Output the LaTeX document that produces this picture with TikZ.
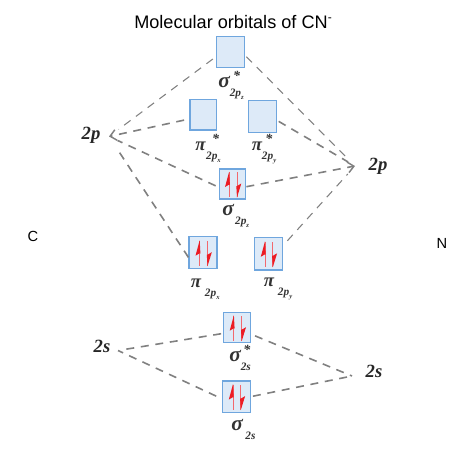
\documentclass[tikz,border=0pt]{standalone}
\usepackage{fontspec}
\setmainfont{Liberation Sans}
\newfontfamily\orbfont{Liberation Serif}
\usetikzlibrary{arrows.meta}
\definecolor{boxfill}{HTML}{DDEAF8}
\definecolor{boxline}{HTML}{6FA6DE}
\definecolor{spinred}{HTML}{EC1C24}
\definecolor{shaftred}{HTML}{F2686E}
\definecolor{linkgrey}{HTML}{808080}
\tikzset{
  orbbox/.style={draw=boxline,fill=boxfill,line width=1pt,inner sep=0pt,minimum width=#1},
  link/.style={draw=linkgrey,line width=1.2pt,dashed,dash pattern=on 6pt off 5pt},
  linkthin/.style={link,line width=.8pt},
  barb/.style={-{Straight Barb[length=4.5pt,width=8pt,line width=1.1pt]}},
  lvl/.style={font=\orbfont\bfseries\itshape\fontsize{14}{14}\selectfont,text=black!85,inner sep=0pt},
  orblabel/.style={font=\orbfont\bfseries\itshape,text=black!80,inner sep=0pt,anchor=base west},
  side/.style={font=\fontsize{11}{12}\selectfont,inner sep=0pt}
}
\newcommand{\orbmain}[1]{{\fontsize{16}{16}\selectfont #1}}
\newcommand{\orbpi}{{\fontsize{14}{14}\selectfont π}}
\newcommand{\orbsub}[2]{\raisebox{-7pt}{\fontsize{8.5}{9}\selectfont #1\raisebox{-2pt}{\fontsize{5}{6}\selectfont #2}}}
\newcommand{\orbstar}[1]{\raisebox{5pt}{\rlap{\hspace{#1}\fontsize{10.5}{11}\selectfont *}}}
\begin{document}
\begin{tikzpicture}[x=.75pt,y=-.75pt]
\useasboundingbox (0,0) rectangle (474,450);
\node[side,font=\fontsize{13.6}{14}\selectfont] (title) at (233,22) {Molecular orbitals of CN\raisebox{5pt}{\fontsize{9}{9}\selectfont -}};
\node[side] (atomC) at (33,236) {C};
\node[side] (atomN) at (442,243) {N};
% boxes
\node[orbbox=20.7pt,minimum height=23.2pt] (sgpzs) at (230.5,52.2) {};
\node[orbbox=20pt,minimum height=23pt] (pipxs) at (203.3,114.7) {};
\node[orbbox=20.7pt,minimum height=23.7pt] (pipys) at (262.5,116.5) {};
\node[orbbox=19.8pt,minimum height=22.5pt] (sgpz) at (232.5,184) {};
\node[orbbox=20.8pt,minimum height=24pt] (pipx) at (203,252.7) {};
\node[orbbox=21pt,minimum height=24.2pt] (pipy) at (268.3,253.8) {};
\node[orbbox=20.2pt,minimum height=22.5pt] (sgss) at (237.2,327.7) {};
\node[orbbox=21pt,minimum height=23.5pt] (sgs) at (236.3,396.6) {};
% spins
\foreach \b in {sgpz,pipx,pipy,sgss,sgs}{
  \begin{scope}[shift={(\b.center)}]
    \fill[shaftred] (-3.8,-12) rectangle (-2.8,13);
    \fill[spinred] (-3.3,-12.5) -- (-7.5,3) -- (-3.3,.5) -- (-2.6,1) -- cycle;
    \fill[shaftred] (4,-12) rectangle (5,13);
    \fill[spinred] (4.5,13.5) -- (8.8,-.5) -- (4.5,2) -- (3.8,2) -- cycle;
  \end{scope}
}
% level labels
\node[lvl] (leftp) at (91,135) {2p};
\node[lvl] (rightp) at (378,166) {2p};
\node[lvl] (lefts) at (102,346) {2s};
\node[lvl] (rights) at (374,371) {2s};
\coordinate (hubLp) at (109,136.5);
\coordinate (hubRp) at (355,166);
\coordinate (hubLs) at (118,350.5);
\coordinate (hubRs) at (352,376);
% connectors
\draw[linkthin,shorten <=3pt,shorten >=9pt] (sgpzs.197) -- (hubLp);
\draw[linkthin,shorten <=1.5pt,shorten >=8.5pt] (sgpzs.-12) -- (hubRp);
\draw[link,barb,shorten <=4pt] (pipxs.197) -- (hubLp);
\draw[link,shorten <=1.5pt,shorten >=6pt] (pipys.-15) -- (hubRp);
\draw[link,shorten <=2.5pt,shorten >=7pt] (sgpz.193) -- (hubLp);
\draw[link,barb] (sgpz.-11) -- (hubRp);
\draw[link,shorten >=10pt] (pipx.198) -- (hubLp);
\draw[linkthin,shorten <=5pt,shorten >=8pt] (pipy.29) -- (hubRp);
\draw[link,shorten <=1.5pt,shorten >=6pt] (sgss.202) -- (hubLs);
\draw[link,shorten <=3pt] (sgss.-25) -- (hubRs);
\draw[link,shorten <=4.5pt] (sgs.188) -- (hubLs);
\draw[link,shorten <=1.5pt] (sgs.0) -- (hubRs);
% orbital labels
\node[orblabel] (lsgpzs) at (218,87) {\orbmain{σ}\orbstar{2.5pt}\orbsub{2p}{z}};
\node[orblabel] (lpipxs) at (195,150) {\orbpi\orbstar{5pt}\orbsub{\hspace{.5pt}2p}{x}};
\node[orblabel] (lpipys) at (251.5,150) {\orbpi\orbstar{2.5pt}\orbsub{2p}{y}};
\node[orblabel] (lsgpz) at (222,215.5) {\orbmain{σ}\orbsub{\hspace{1pt}2p}{z}};
\node[orblabel] (lpipx) at (190.5,287) {\orbpi\orbsub{\hspace{3pt}2p}{x}};
\node[orblabel] (lpipy) at (263.5,286) {\orbpi\orbsub{\hspace{3pt}2p}{y}};
\node[orblabel] (lsgss) at (229,361) {\orbmain{σ}\orbstar{2pt}\orbsub{2s}{}};
\node[orblabel] (lsgs) at (231,430) {\orbmain{σ}\orbsub{\hspace{2pt}2s}{}};
\end{tikzpicture}
\end{document}
